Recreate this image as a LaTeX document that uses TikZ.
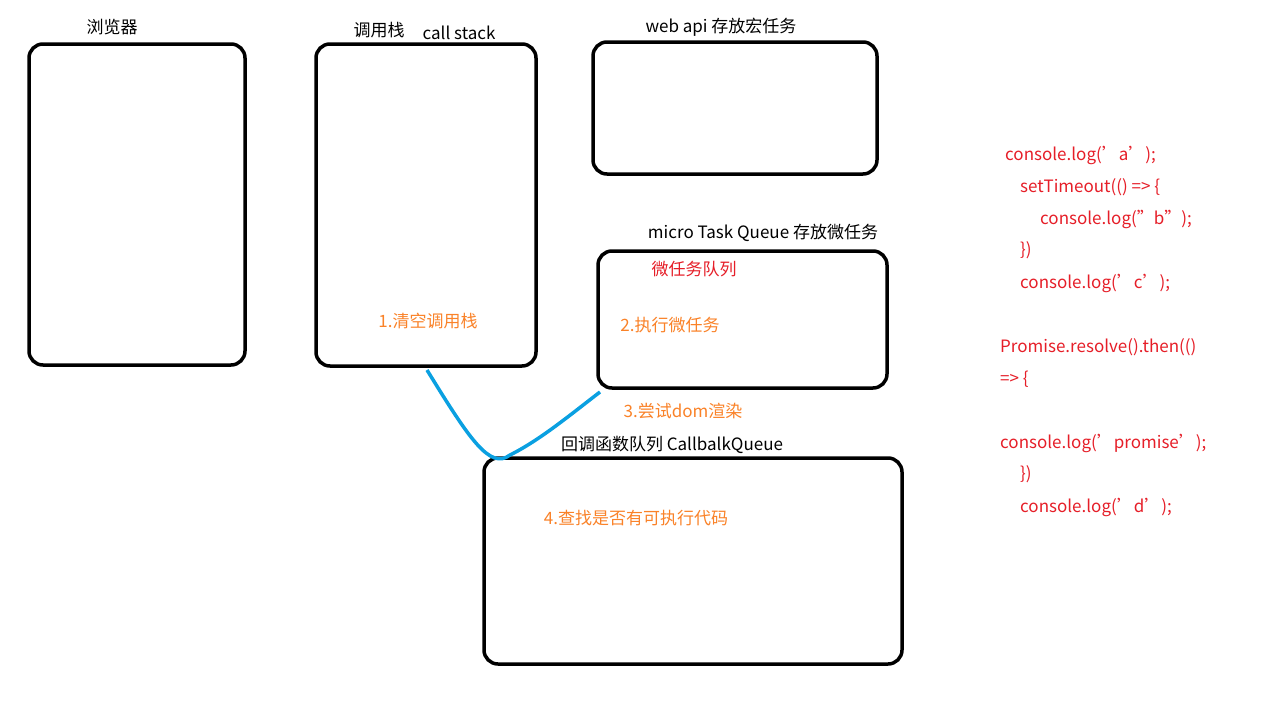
\documentclass[tikz,border=0pt]{standalone}
\usepackage{fontspec}
\setmainfont{Noto Sans CJK SC}
\definecolor{codered}{RGB}{230,30,40}
\definecolor{steporange}{RGB}{250,130,40}
\definecolor{linkblue}{RGB}{10,160,225}
\tikzset{
  panel/.style={draw, line width=3.5pt, rounded corners=14pt},
  title/.style={font=\fontsize{17}{20}\selectfont, inner sep=0pt},
  stepnote/.style={title, text=steporange},
  codeline/.style={title, text=codered, anchor=west}
}
\begin{document}
\begin{tikzpicture}[x=1pt, y=-1pt]
    \useasboundingbox[fill=white] (0,0) rectangle (1276,715);

    % Boxes
    \draw[panel] (29,44) rectangle (245,365);
    \draw[panel] (316,44) rectangle (536,366);
    \draw[panel] (593,42) rectangle (877,174);
    \draw[panel] (598,251) rectangle (887,388);
    \draw[panel] (484,458) rectangle (902,664);

    % Titles
    \node[title] (browser) at (112,27) {浏览器};
    \node[title] (stack) at (379,30) {调用栈};
    \node[title] (stacken) at (459,33) {call stack};
    \node[title] (webapi) at (721,27) {web api 存放宏任务};
    \node[title] (micro) at (763,233) {micro Task Queue 存放微任务};
    \node[title, text=codered] (microcn) at (694,269) {微任务队列};
    \node[title] (callback) at (672,445) {回调函数队列 CallbalkQueue};

    % Steps
    \node[stepnote] (s1) at (428,321) {1.清空调用栈};
    \node[stepnote] (s2) at (670,325) {2.执行微任务};
    \node[stepnote] (s3) at (683,411) {3.尝试dom渲染};
    \node[stepnote] (s4) at (636,518) {4.查找是否有可执行代码};

    % Loop curve
    \coordinate (c1) at (427,370);
    \coordinate (c2) at (600,392);
    \draw[linkblue, line width=3.5pt] (c1) .. controls (470,440) and (490,470) .. (510,455)
      .. controls (540,440) and (570,415) .. (c2);

    % Code
    \node[codeline] (l1) at (1005,155) {console.log('a');};
    \node[codeline] (l2) at (1020,187) {setTimeout(() => \{};
    \node[codeline] (l3) at (1040,219) {console.log("b");};
    \node[codeline] (l4) at (1020,250) {\})};
    \node[codeline] (l5) at (1020,283) {console.log('c');};
    \node[codeline] (l6) at (1000,347) {Promise.resolve().then(()};
    \node[codeline] (l7) at (1000,379) {=> \{};
    \node[codeline] (l8) at (1000,443) {console.log('promise');};
    \node[codeline] (l9) at (1020,474) {\})};
    \node[codeline] (l10) at (1020,507) {console.log('d');};
\end{tikzpicture}
\end{document}
